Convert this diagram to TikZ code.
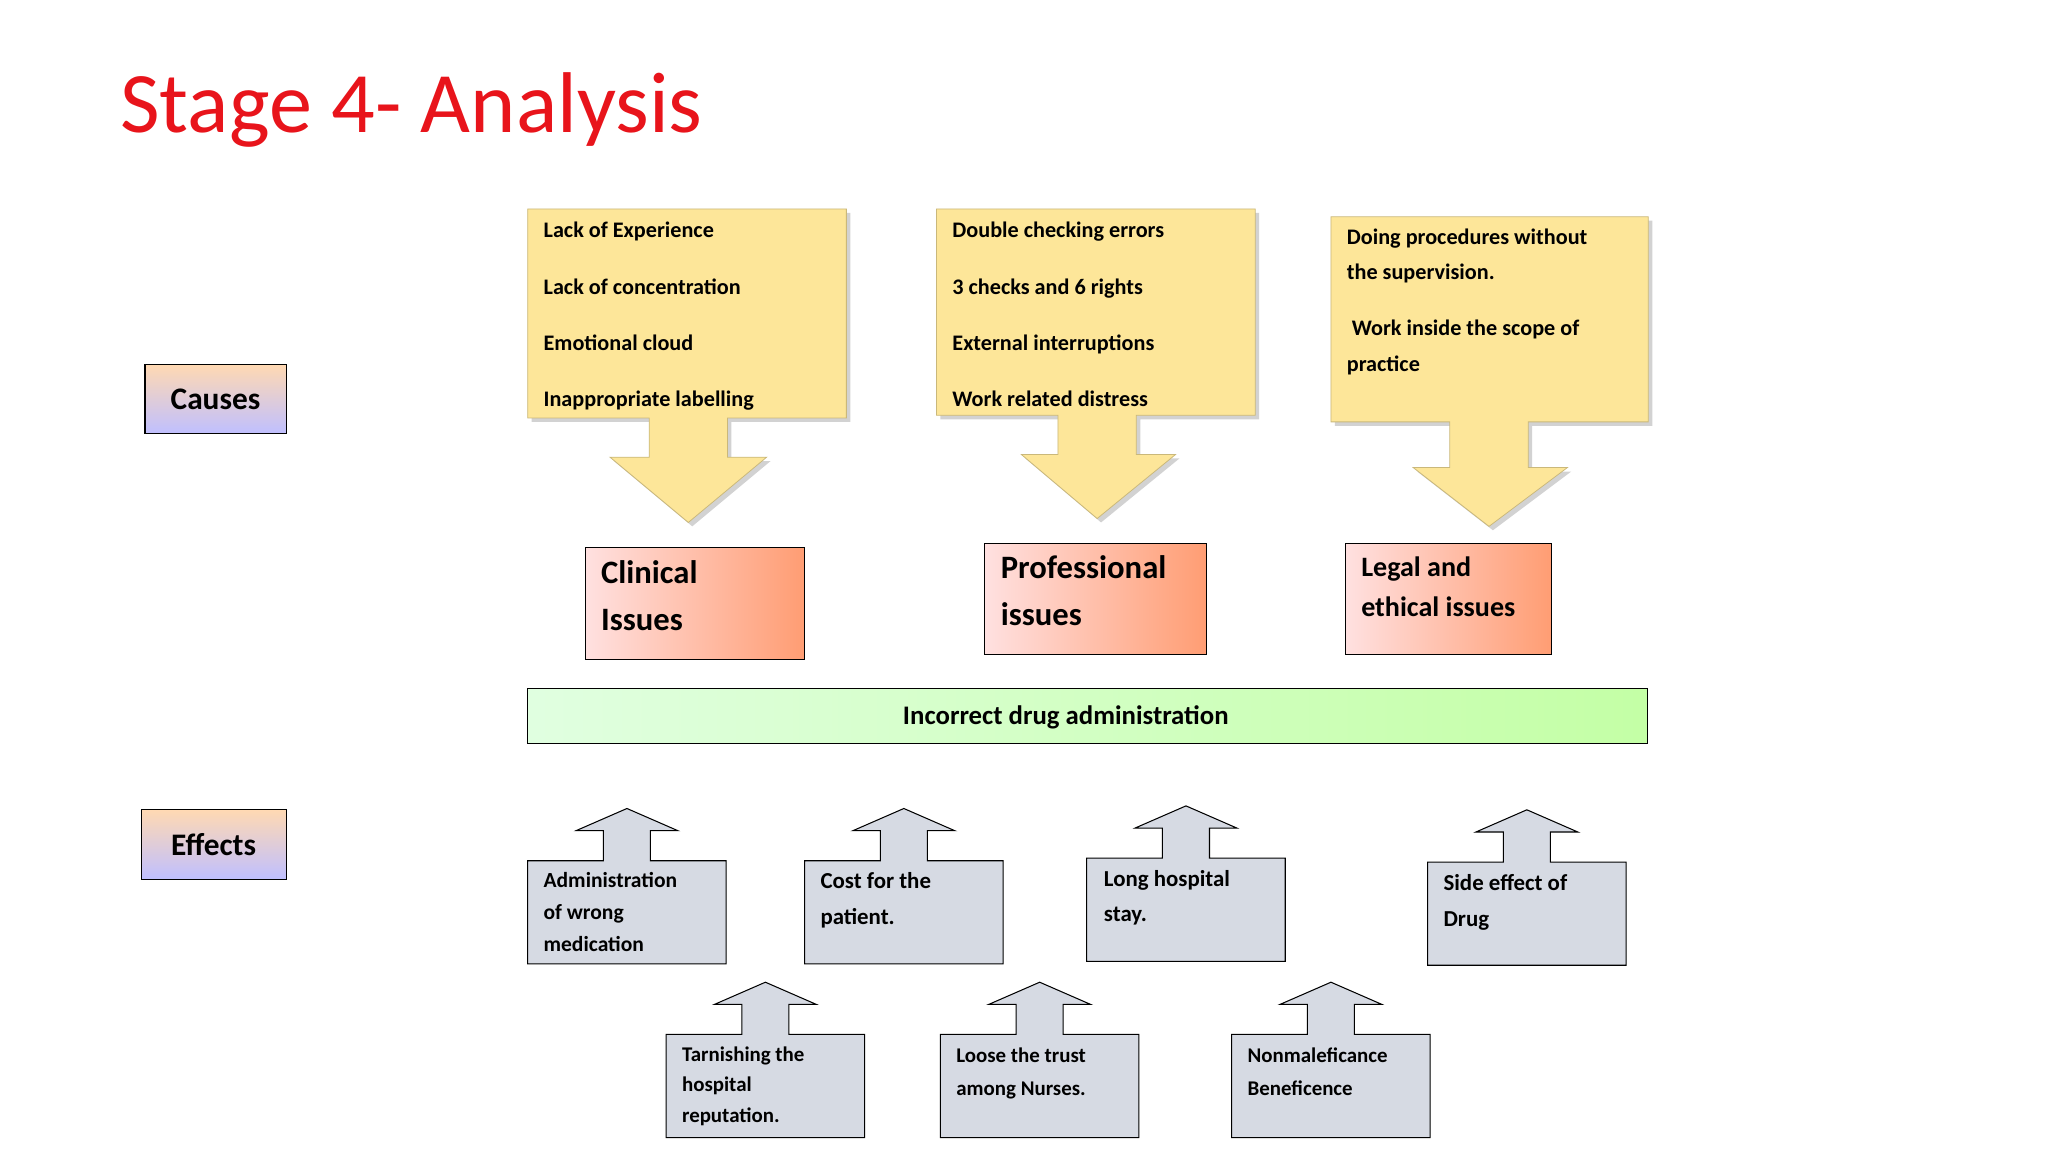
\documentclass[tikz,border=0pt]{standalone}
\usepackage{fontspec}
\setmainfont{Carlito}
\usetikzlibrary{shadows}
\definecolor{yel}{HTML}{FDE699}
\definecolor{grayb}{HTML}{D6DAE3}
\definecolor{redt}{HTML}{E8141B}
\tikzset{
 ycall/.style={fill=yel,draw=yel!80!black,line width=0.6pt,drop shadow={opacity=0.35,shadow xshift=3pt,shadow yshift=-3pt}},
 gcall/.style={fill=grayb,draw=black,line width=0.8pt},
 ytxt/.style={anchor=north west,align=left,font=\fontsize{17}{43}\selectfont\bfseries,inner sep=0pt},
 etxt/.style={anchor=north west,align=left,font=\fontsize{16.5}{24.5}\selectfont\bfseries,inner sep=0pt},
 side/.style={draw=black,line width=0.8pt,top color=orange!30!white,bottom color=blue!25!white,font=\fontsize{24}{28}\selectfont\bfseries,inner sep=0pt},
 issue/.style={draw=black,line width=0.6pt,left color=red!12!white,right color=orange!60!red!55!white},
 itxt/.style={anchor=north west,align=left,inner sep=0pt,font=\fontsize{25}{36}\selectfont\bfseries},
}
\newcommand\upc[2]{%
 \draw[gcall] (#1,#2)--(#1+58,#2)--(#1+58,#2-23)--(#1+37,#2-23)--(#1+76,#2-40)--(#1+115,#2-23)--(#1+94,#2-23)--(#1+94,#2)--(#1+152,#2)--(#1+152,#2+79)--(#1,#2+79)--cycle;}
\begin{document}
\begin{tikzpicture}[x=1pt,y=-1pt]
\useasboundingbox[fill=white] (0,0) rectangle (1568,882);
\node[anchor=west,text=redt,inner sep=0pt,font=\fontsize{66}{70}\selectfont] (title) at (92,84) {Stage 4- Analysis};
% sides
\node[side,minimum width=108pt,minimum height=53pt] (causes) at (165,305.5) {Causes};
\node[side,minimum width=111pt,minimum height=53pt] (effects) at (163.5,646.5) {Effects};
% yellow callouts
\draw[ycall] (404,160)--(648,160)--(648,320)--(557,320)--(557,350)--(587,350)--(527,400)--(467,350)--(497,350)--(497,320)--(404,320)--cycle;
\draw[ycall] (717,160)--(961,160)--(961,318)--(870,318)--(870,348)--(900,348)--(840,397)--(782,348)--(810,348)--(810,318)--(717,318)--cycle;
\draw[ycall] (1019,166)--(1262,166)--(1262,323)--(1170,323)--(1170,358)--(1200,358)--(1140,403)--(1082,358)--(1110,358)--(1110,323)--(1019,323)--cycle;
\node[ytxt] (c1) at (416,170) {Lack of Experience\\Lack of concentration\\Emotional cloud\\Inappropriate labelling};
\node[ytxt] (c2) at (729,170) {Double checking errors\\3 checks and 6 rights\\External interruptions\\Work related distress};
\node[ytxt,font=\fontsize{17}{27}\selectfont\bfseries] (c3) at (1031,175) {Doing procedures without\\the supervision.};
\node[ytxt,font=\fontsize{17}{27}\selectfont\bfseries] (c4) at (1031,245) {\ Work inside the scope of\\practice};
% issues
\draw[issue] (448,419) rectangle (616,505);
\draw[issue] (754,416) rectangle (924,501);
\draw[issue] (1030,416) rectangle (1188,501);
\node[itxt] (i1) at (460,429) {Clinical\\Issues};
\node[itxt] (i2) at (766,425) {Professional\\issues};
\node[itxt,font=\fontsize{21.5}{31}\selectfont\bfseries] (i3) at (1042,426) {Legal and\\ethical issues};
% green bar
\draw[line width=0.6pt,left color=green!12!white,right color=green!55!lime!35!white] (404,527) rectangle (1261,569);
\node[font=\fontsize{20.5}{24}\selectfont\bfseries,inner sep=0pt] (bar) at (816,549) {Incorrect drug administration};
% effects
\upc{404}{659}\upc{616}{659}\upc{832}{657}\upc{1093}{660}
\upc{510}{792}\upc{720}{792}\upc{943}{792}
\node[etxt] (e1) at (416,668) {Administration\\of wrong\\medication};
\node[etxt,font=\fontsize{17.5}{27}\selectfont\bfseries] (e2) at (628,668) {Cost for the\\patient.};
\node[etxt,font=\fontsize{17.5}{27}\selectfont\bfseries] (e3) at (845,666) {Long hospital\\stay.};
\node[etxt,font=\fontsize{17.5}{28}\selectfont\bfseries] (e4) at (1105,669) {Side effect of\\Drug};
\node[etxt,font=\fontsize{16}{23.5}\selectfont\bfseries] (e5) at (522,801) {Tarnishing the\\hospital\\reputation.};
\node[etxt,font=\fontsize{16}{25}\selectfont\bfseries] (e6) at (732,802) {Loose the trust\\among Nurses.};
\node[etxt,font=\fontsize{16}{25}\selectfont\bfseries] (e7) at (955,802) {Nonmaleficance\\Beneficence};
\end{tikzpicture}
\end{document}
